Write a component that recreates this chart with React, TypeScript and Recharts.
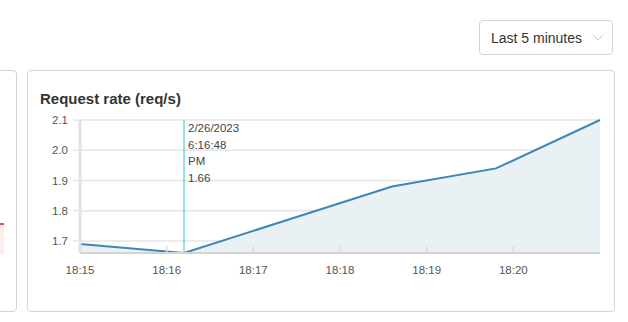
import {
  ComposedChart,
  Area,
  XAxis,
  YAxis,
  CartesianGrid,
  ReferenceLine,
} from "recharts";

// sample times (hh:mm:ss) and request rates
const times = ["18:15:00", "18:16:12", "18:17:24", "18:18:36", "18:19:48", "18:21:00"];
const rates = [1.69, 1.66, 1.77, 1.88, 1.94, 2.1];

const xTicks = ["18:15", "18:16", "18:17", "18:18", "18:19", "18:20"];
const yTicks = [1.7, 1.8, 1.9, 2.0, 2.1];

// hovered point shown in the tooltip
const hoverIndex = 1;
const hoverLines = ["2/26/2023", "6:16:48", "PM"];

const toSec = (t: string) => {
  const [h, m, s] = t.split(":").map(Number);
  return h * 3600 + m * 60 + (s || 0);
};

const fmtTime = (v: number) => {
  const h = Math.floor(v / 3600);
  const m = Math.floor((v % 3600) / 60);
  return `${h}:${String(m).padStart(2, "0")}`;
};

const data = times.map((t, i) => ({ t: toSec(t), rate: rates[i] }));

const FONT = "'Liberation Sans', Arial, Helvetica, sans-serif";

const XTick = (props: any) => {
  const { x, y, payload } = props;
  return (
    <g>
      <line x1={x} x2={x} y1={y - 7} y2={y} stroke="#dcdce0" strokeWidth={1.5} />
      <text x={x} y={y + 21} textAnchor="middle" fontSize={11.5} fill="#555" fontFamily={FONT}>
        {fmtTime(payload.value)}
      </text>
    </g>
  );
};

const HoverLabel = (props: any) => {
  const { viewBox } = props;
  const x = viewBox.x + 4;
  const y = viewBox.y;
  const lines = [...hoverLines, rates[hoverIndex].toFixed(2)];
  return (
    <g>
      {lines.map((l, i) => (
        <text key={i} x={x} y={y + 12 + i * 16.7} fontSize={11.5} fill="#444" fontFamily={FONT}>
          {l}
        </text>
      ))}
    </g>
  );
};

export default function App() {
  return (
    <div
      style={{
        position: "fixed",
        left: 0,
        top: 0,
        width: 628,
        height: 322,
        background: "#fff",
        fontFamily: FONT,
        overflow: "hidden",
      }}
    >
      {/* time range picker */}
      <div
        style={{
          position: "absolute",
          left: 479,
          top: 20,
          width: 132,
          height: 33,
          border: "1px solid #d4d4d8",
          borderRadius: 4,
          boxSizing: "content-box",
        }}
      >
        <span
          style={{
            position: "absolute",
            left: 11,
            top: 9,
            fontSize: 14,
            color: "#333",
            lineHeight: "16px",
          }}
        >
          Last 5 minutes
        </span>
        <svg style={{ position: "absolute", left: 112, top: 13 }} width={12} height={8}>
          <polyline points="1,1 6,6 11,1" fill="none" stroke="#c8c8cc" strokeWidth={1} />
        </svg>
      </div>

      {/* neighbouring card edge */}
      <div
        style={{
          position: "absolute",
          left: -10,
          top: 70,
          width: 25,
          height: 240,
          border: "1px solid #d4d4d8",
          borderRadius: 4,
        }}
      />
      <div
        style={{
          position: "absolute",
          left: 0,
          top: 223,
          width: 4,
          height: 30,
          background: "#fbeeec",
          borderTop: "2px solid #d9534f",
        }}
      />

      {/* chart card */}
      <div
        style={{
          position: "absolute",
          left: 27,
          top: 70,
          width: 586,
          height: 240,
          border: "1px solid #d4d4d8",
          borderRadius: 4,
        }}
      >
        <div
          style={{
            position: "absolute",
            left: 12,
            top: 19,
            fontSize: 15,
            fontWeight: "bold",
            color: "#333",
          }}
        >
          Request rate (req/s)
        </div>
      </div>

      <div style={{ position: "absolute", left: 27, top: 110 }}>
        <ComposedChart
          width={587}
          height={173}
          data={data}
          margin={{ top: 10, right: 14, bottom: 0, left: 0 }}
        >
          <CartesianGrid vertical={false} stroke="#e6e6ea" strokeWidth={1.5} />
          <XAxis
            dataKey="t"
            type="number"
            domain={["dataMin", "dataMax"]}
            ticks={xTicks.map(toSec)}
            height={30}
            tickSize={0}
            tickMargin={0}
            tickLine={false}
            tick={<XTick />}
            axisLine={{ stroke: "#d2d2d8", strokeWidth: 2 }}
          />
          <YAxis
            type="number"
            domain={["dataMin", "dataMax"]}
            ticks={yTicks}
            width={53}
            tickSize={7}
            tickMargin={5}
            tickLine={{ stroke: "#e6e6ea", strokeWidth: 1.5 }}
            tickFormatter={(v: number) => v.toFixed(1)}
            tick={{ fontSize: 11.5, fill: "#555", fontFamily: FONT }}
            axisLine={{ stroke: "#e2e2e6", strokeWidth: 3 }}
          />
          <Area
            type="linear"
            dataKey="rate"
            stroke="#3b87b5"
            strokeWidth={2}
            fill="#e9f1f5"
            fillOpacity={1}
            dot={false}
            activeDot={false}
            isAnimationActive={false}
          />
          <ReferenceLine
            x={data[hoverIndex].t}
            stroke="#2cc4cf"
            strokeWidth={1}
            label={<HoverLabel />}
          />
        </ComposedChart>
      </div>
    </div>
  );
}
